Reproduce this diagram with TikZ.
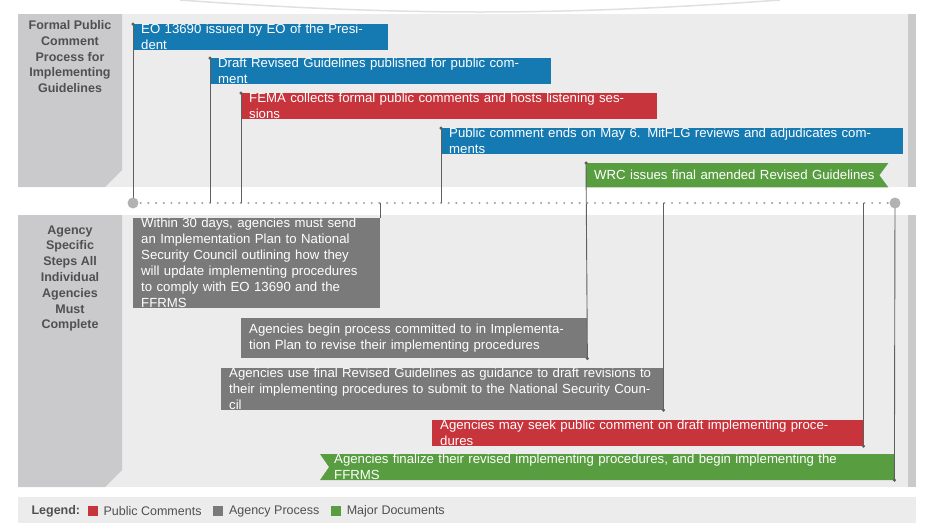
\documentclass[tikz,border=0pt]{standalone}
\usepackage{fontspec}
\setmainfont{Liberation Sans}
\usetikzlibrary{positioning, backgrounds}
\definecolor{evblue}{RGB}{22,122,178}
\definecolor{evred}{RGB}{200,52,60}
\definecolor{evgray}{RGB}{122,122,122}
\definecolor{evgreen}{RGB}{88,158,64}
\definecolor{panelbg}{RGB}{236,236,237}
\definecolor{labelbg}{RGB}{202,202,204}
\definecolor{labeltext}{RGB}{80,80,80}
\definecolor{stemgray}{RGB}{95,95,95}

\begin{document}
\begin{tikzpicture}[x=1pt, y=-1pt,
    box/.style={rectangle, anchor=north west, text=white, inner xsep=8pt, inner ysep=0pt,
        minimum height=24pt, text width=#1-16pt, align=left, font=\fontsize{13.2}{16}\selectfont},
    tall/.style={minimum height=40pt},
    stem/.style={stemgray, line width=0.9pt},
    tipdot/.style={circle, fill=stemgray, inner sep=0pt, minimum size=3.5pt},
    sidelabel/.style={anchor=north, align=center, text=labeltext, font=\fontsize{12.5}{15.8}\selectfont\bfseries},
    legendtext/.style={font=\fontsize{12.5}{14}\selectfont, text=labeltext}
]
    \useasboundingbox (0,0) rectangle (927,528);
    % Backdrop
    \begin{scope}[on background layer]
        \draw[black!12, line width=1.5pt] (180,0) .. controls (400,16) and (560,16) .. (780,0);
        \fill[panelbg] (18,14) rectangle (916,187);
        \fill[panelbg] (18,215) rectangle (916,487);
        \fill[labelbg] (908,14) rectangle (916,187);
        \fill[labelbg] (908,215) rectangle (916,487);
        \fill[labelbg] (18,14) -- (122,14) -- (122,170) -- (105,187) -- (18,187) -- cycle;
        \fill[labelbg] (18,215) -- (122,215) -- (122,470) -- (105,487) -- (18,487) -- cycle;
        \fill[panelbg] (18,497) rectangle (916,523);
    \end{scope}

    % Side labels
    \node[sidelabel] (toplabel) at (70,17) {Formal Public\\Comment\\Process for\\Implementing\\Guidelines};
    \node[sidelabel] (botlabel) at (70,222) {Agency\\Specific\\Steps All\\Individual\\Agencies\\Must\\Complete};

    % Timeline
    \coordinate (tstart) at (133,203);
    \coordinate (tend) at (895,203);
    \draw[black!35, line width=2.4pt, line cap=round, dash pattern=on 0pt off 7.7pt] (tstart) -- (tend);

    % Upper events
    \node[box=255pt, fill=evblue] (eo) at (133,24) {EO 13690 issued by EO of the President};
    \node[box=341pt, fill=evblue] (draft) at (210,58) {Draft Revised Guidelines published for public comment};
    \node[box=416pt, fill=evred] (fema) at (241,93) {FEMA collects formal public comments and hosts listening sessions};
    \node[box=462pt, fill=evblue] (ends) at (441,128) {Public comment ends on May 6. MitFLG reviews and adjudicates comments};
    \node[box=302pt] (wrc) at (586,163) {WRC issues final amended Revised Guidelines};

    % Lower events
    \node[box=247pt, fill=evgray, minimum height=90pt] (plan) at (133,218)
        {Within 30 days, agencies must send an Implementation Plan to National Security Council outlining how they will update implementing procedures to comply with EO 13690 and the FFRMS};
    \node[box=346pt, fill=evgray, tall] (begin) at (241,318)
        {Agencies begin process committed to in Implementation Plan to revise their implementing procedures};
    \node[box=442pt, fill=evgray, tall] (use) at (221,368)
        {Agencies use final Revised Guidelines as guidance to draft revisions to their implementing procedures to submit to the National Security Council};
    \node[box=431pt, fill=evred] (seek) at (432,420) {Agencies may seek public comment on draft implementing procedures};
    \node[box=574pt, inner xsep=14pt, text width=546pt] (final) at (320,454)
        {Agencies finalize their revised implementing procedures, and begin implementing the FFRMS};

    % Flag shapes
    \begin{scope}[on background layer]
        \fill[evgreen] (wrc.north west) -- (wrc.north east) -- ([xshift=-9pt]wrc.east) -- (wrc.south east) -- (wrc.south west) -- cycle;
        \fill[evgreen] (final.north west) -- (final.north east) -- (final.south east) -- (final.south west) -- ([xshift=9pt]final.west) -- cycle;
    \end{scope}

    % Stems
    \draw[stem] (eo.north west) -- (tstart);
    \draw[stem] (draft.north west) -- (draft.north west |- tstart);
    \draw[stem] (fema.north west) -- (fema.north west |- tstart);
    \draw[stem] (ends.north west) -- (ends.north west |- tstart);
    \draw[stem] (wrc.north west) -- (begin.south east);
    \draw[stem] (plan.north east |- tstart) -- (plan.north east);
    \draw[stem] (use.south east |- tstart) -- (use.south east);
    \draw[stem] (seek.south east |- tstart) -- (seek.south east);
    \draw[stem] (tend) -- (final.south east);
    \foreach \p in {eo.north west, draft.north west, fema.north west, ends.north west, wrc.north west,
                    begin.south east, use.south east, seek.south east, final.south east}
        \node[tipdot] at (\p) {};
    \fill[black!30] (tstart) circle (5.5pt);
    \fill[black!30] (tend) circle (5.5pt);

    % Legend
    \node[anchor=west, font=\fontsize{12.5}{14}\selectfont\bfseries, text=labeltext] (legend) at (28,511) {Legend:};
    \node[right=4pt of legend, fill=evred, minimum size=10pt, inner sep=0pt] (keyred) {};
    \node[right=2pt of keyred, legendtext] (txtred) {Public Comments};
    \node[right=8pt of txtred, fill=evgray, minimum size=10pt, inner sep=0pt] (keygray) {};
    \node[right=2pt of keygray, legendtext] (txtgray) {Agency Process};
    \node[right=8pt of txtgray, fill=evgreen, minimum size=10pt, inner sep=0pt] (keygreen) {};
    \node[right=2pt of keygreen, legendtext] (txtgreen) {Major Documents};
\end{tikzpicture}
\end{document}
